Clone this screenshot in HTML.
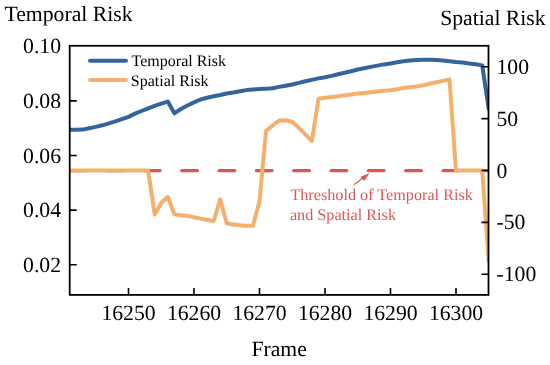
<!DOCTYPE html><html><head><meta charset="utf-8"><style>html,body{margin:0;padding:0;background:#fff;}svg{display:block;text-rendering:geometricPrecision;}</style></head><body><svg width="550" height="365" viewBox="0 0 550 365" font-family="'Liberation Serif',serif">
<defs><clipPath id="ax"><rect x="69.70" y="45.80" width="418.80" height="249.10"/></clipPath></defs>
<rect width="550" height="365" fill="#fff"/>
<g clip-path="url(#ax)">
<line x1="69.7" y1="170.6" x2="488.5" y2="170.6" stroke="#dc5656" stroke-width="3.3" stroke-dasharray="15.7 21.63" stroke-linecap="round"/>
<polyline points="69.55,129.80 76.10,129.80 82.65,129.60 89.20,128.30 95.75,126.90 102.30,125.30 108.85,123.40 115.40,121.40 121.95,119.20 128.50,116.90 135.05,113.60 141.60,111.00 148.15,108.30 154.70,105.80 161.25,103.60 167.80,101.60 174.35,113.30 180.90,109.00 187.45,105.50 194.00,102.40 200.55,99.50 207.10,97.70 213.65,96.30 220.20,95.00 226.75,93.50 233.30,92.50 239.85,91.20 246.40,90.10 252.95,89.50 259.50,89.10 266.05,88.70 272.60,88.20 279.15,86.90 285.70,85.70 292.25,84.50 298.80,82.90 305.35,81.30 311.90,79.90 318.45,78.40 325.00,77.20 331.55,75.90 338.10,74.20 344.65,72.80 351.20,71.20 357.75,69.50 364.30,68.20 370.85,66.90 377.40,65.60 383.95,64.40 390.50,63.40 397.05,62.30 403.60,61.30 410.15,60.40 416.70,60.10 423.25,59.80 429.80,59.80 436.35,60.00 442.90,60.60 449.45,61.20 456.00,62.00 462.55,62.60 469.10,63.40 475.65,64.20 482.20,65.40 488.75,109.00" fill="none" stroke="#33659b" stroke-width="4" stroke-linejoin="round" stroke-linecap="round"/>
<polyline points="69.55,170.60 76.10,170.60 82.65,170.60 89.20,170.60 95.75,170.60 102.30,170.60 108.85,170.60 115.40,170.60 121.95,170.60 128.50,170.60 135.05,170.60 141.60,170.60 148.15,170.60 154.70,214.50 161.25,203.00 167.80,196.80 174.35,214.30 180.90,215.20 187.45,215.90 194.00,217.20 200.55,218.60 207.10,219.80 213.65,221.00 220.20,199.40 226.75,223.30 233.30,224.50 239.85,225.20 246.40,225.70 252.95,225.80 259.50,201.30 266.05,131.00 272.60,125.50 279.15,120.60 285.70,120.20 292.25,121.80 298.80,127.80 305.35,134.30 311.90,141.00 318.45,98.80 325.00,97.80 331.55,96.90 338.10,96.20 344.65,95.30 351.20,94.40 357.75,93.60 364.30,92.90 370.85,92.20 377.40,91.40 383.95,90.70 390.50,90.20 397.05,89.20 403.60,88.10 410.15,87.30 416.70,86.40 423.25,85.20 429.80,83.70 436.35,82.30 442.90,80.90 449.45,79.40 456.00,170.60 462.55,170.60 469.10,170.60 475.65,170.60 482.20,170.60 488.75,261.00" fill="none" stroke="#f3b06c" stroke-width="4" stroke-linejoin="round" stroke-linecap="round"/>
</g>
<path d="M128.50,294.9V287.9 M194.00,294.9V287.9 M259.50,294.9V287.9 M325.00,294.9V287.9 M390.50,294.9V287.9 M456.00,294.9V287.9 M69.7,264.80H76.7 M69.7,210.15H76.7 M69.7,155.50H76.7 M69.7,100.85H76.7 M488.5,274.20H481.5 M488.5,222.35H481.5 M488.5,170.50H481.5 M488.5,118.65H481.5 M488.5,66.80H481.5" stroke="#000" stroke-width="1.6" fill="none"/>
<rect x="69.7" y="45.8" width="418.80" height="249.10" fill="none" stroke="#000" stroke-width="1.8"/>
<g font-size="21.7" fill="#000"><text x="128.50" y="320.1" text-anchor="middle">16250</text><text x="194.00" y="320.1" text-anchor="middle">16260</text><text x="259.50" y="320.1" text-anchor="middle">16270</text><text x="325.00" y="320.1" text-anchor="middle">16280</text><text x="390.50" y="320.1" text-anchor="middle">16290</text><text x="456.00" y="320.1" text-anchor="middle">16300</text><text x="61" y="53.30" text-anchor="end">0.10</text><text x="61" y="107.95" text-anchor="end">0.08</text><text x="61" y="162.60" text-anchor="end">0.06</text><text x="61" y="217.25" text-anchor="end">0.04</text><text x="61" y="271.90" text-anchor="end">0.02</text><text x="496.5" y="73.90">100</text><text x="496.5" y="125.75">50</text><text x="496.5" y="177.60">0</text><text x="496.5" y="229.45">-50</text><text x="496.5" y="281.30">-100</text></g>
<text x="4.5" y="20.8" font-size="21.7">Temporal Risk</text>
<text x="440.2" y="24.5" font-size="21.7">Spatial Risk</text>
<text x="279.15" y="356.3" font-size="21.7" text-anchor="middle">Frame</text>
<line x1="90" y1="60.8" x2="126" y2="60.8" stroke="#33659b" stroke-width="4" stroke-linecap="round"/>
<line x1="90" y1="80" x2="126" y2="80" stroke="#f3b06c" stroke-width="4" stroke-linecap="round"/>
<text x="131.6" y="66" font-size="16">Temporal Risk</text>
<text x="130.8" y="85.6" font-size="16">Spatial Risk</text>
<g fill="#dc5656" font-size="16.2"><text x="290.4" y="199.6">Threshold of Temporal Risk</text><text x="289.9" y="219.6">and Spatial Risk</text></g>
<line x1="354" y1="184.8" x2="363.5" y2="177.6" stroke="#dc5656" stroke-width="1.2"/>
<polygon points="369.6,173.1 360.3,176.9 364.1,181.0" fill="#dc5656"/>
</svg></body></html>
